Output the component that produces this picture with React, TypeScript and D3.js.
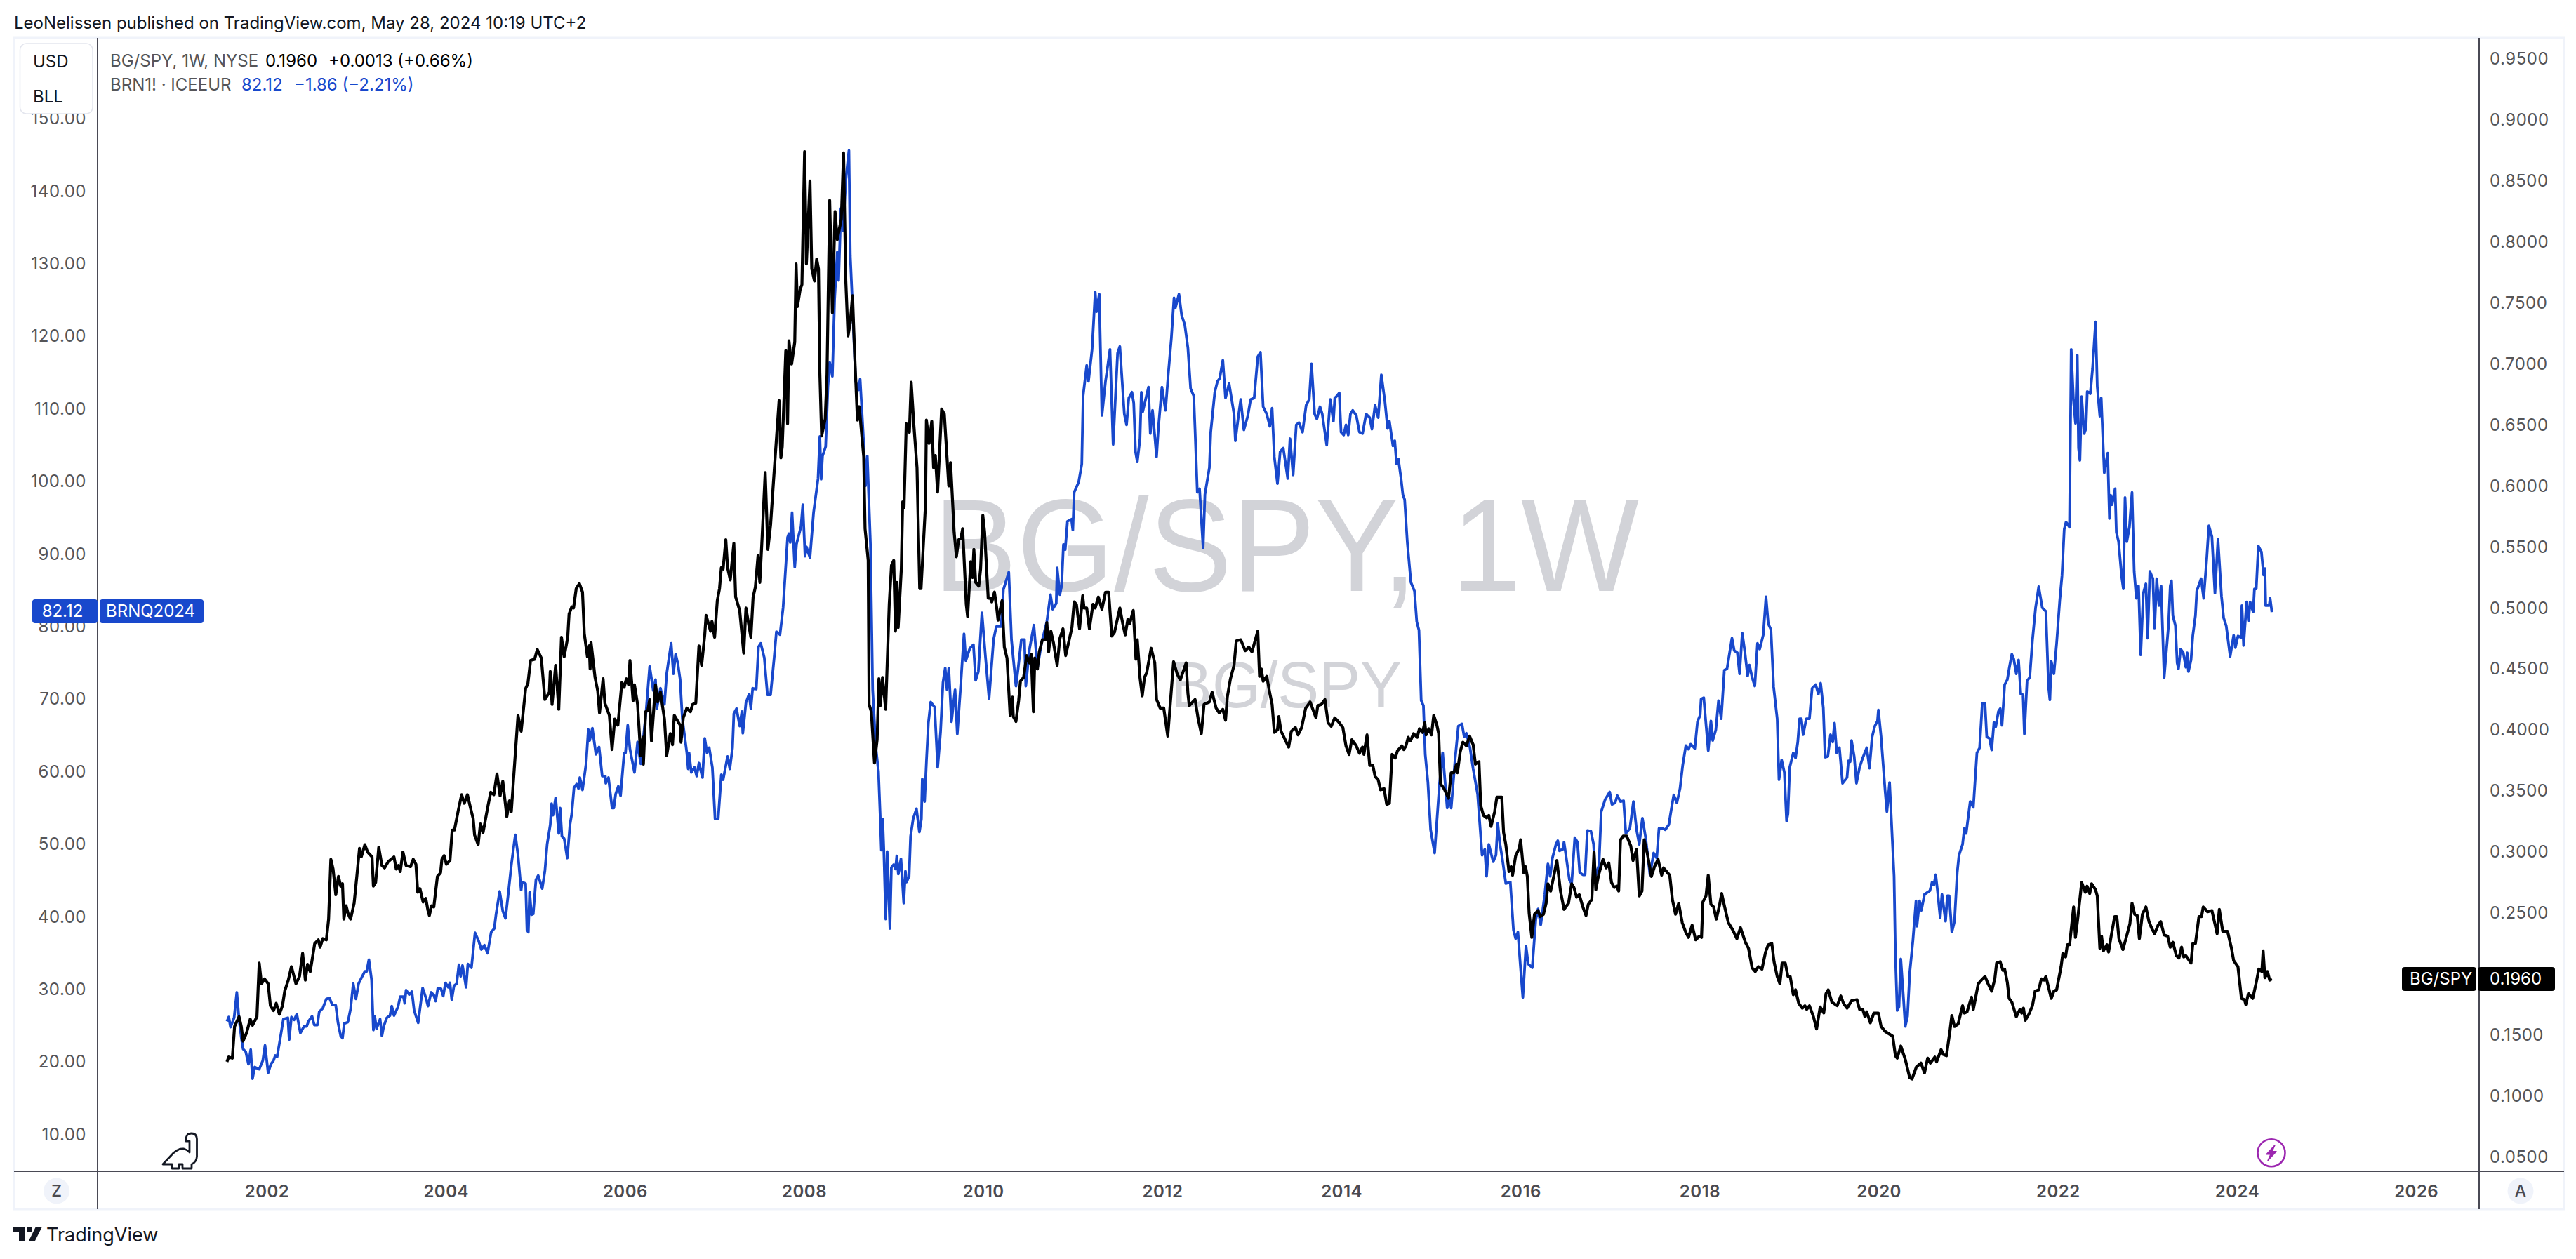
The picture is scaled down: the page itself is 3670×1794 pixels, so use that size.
import React, { useEffect, useRef } from 'react';
import { select, scaleLinear, line, axisLeft, axisRight, axisBottom, format } from 'd3';

// weekly-ish [decimal year, value] pairs
const bgSpy: [number, number][] = [
  [2001.556,.128],[2001.576,.132],[2001.616,.131],[2001.641,.157],[2001.666,.161],[2001.691,.165],[2001.716,.157],[2001.736,.145],[2001.776,.152],[2001.816,.163],[2001.841,.158],[2001.891,.165],[2001.916,.209],[2001.941,.192],[2001.976,.196],
  [2002.016,.192],[2002.041,.174],[2002.076,.170],[2002.106,.176],[2002.141,.167],[2002.176,.174],[2002.201,.186],[2002.241,.195],[2002.276,.206],[2002.326,.192],[2002.366,.198],[2002.401,.217],[2002.431,.195],[2002.456,.208],[2002.486,.202],[2002.536,.225],[2002.576,.228],[2002.596,.222],[2002.626,.229],[2002.666,.228],[2002.691,.245],[2002.716,.294],[2002.741,.286],[2002.771,.265],[2002.801,.280],[2002.826,.272],[2002.846,.274],[2002.861,.245],[2002.886,.256],[2002.911,.249],[2002.936,.245],[2002.976,.258],
  [2003.006,.280],[2003.036,.303],[2003.056,.296],[2003.096,.306],[2003.126,.300],[2003.176,.296],[2003.191,.272],[2003.216,.275],[2003.251,.304],[2003.286,.289],[2003.316,.287],[2003.356,.292],[2003.421,.296],[2003.446,.286],[2003.471,.289],[2003.491,.284],[2003.521,.300],[2003.556,.289],[2003.606,.288],[2003.636,.294],[2003.666,.290],[2003.686,.267],[2003.711,.270],[2003.746,.259],[2003.776,.262],[2003.801,.252],[2003.816,.248],[2003.841,.256],[2003.866,.255],[2003.906,.280],[2003.941,.283],[2003.956,.294],[2003.981,.297],
  [2004.006,.290],[2004.046,.293],[2004.071,.318],[2004.096,.318],[2004.136,.333],[2004.176,.347],[2004.206,.340],[2004.241,.347],[2004.276,.336],[2004.306,.327],[2004.321,.314],[2004.361,.306],[2004.386,.323],[2004.416,.316],[2004.466,.336],[2004.501,.349],[2004.536,.347],[2004.571,.364],[2004.606,.346],[2004.636,.358],[2004.681,.329],[2004.711,.342],[2004.731,.333],[2004.761,.365],[2004.806,.412],[2004.841,.399],[2004.891,.434],[2004.916,.438],[2004.946,.457],[2004.991,.458],
  [2005.021,.466],[2005.066,.459],[2005.106,.425],[2005.156,.431],[2005.166,.448],[2005.186,.421],[2005.226,.453],[2005.261,.417],[2005.291,.476],[2005.321,.460],[2005.361,.476],[2005.376,.495],[2005.406,.501],[2005.426,.500],[2005.456,.516],[2005.491,.520],[2005.526,.513],[2005.546,.479],[2005.581,.460],[2005.601,.469],[2005.611,.450],[2005.621,.472],[2005.666,.443],[2005.696,.432],[2005.716,.414],[2005.756,.442],[2005.776,.422],[2005.826,.412],[2005.856,.384],[2005.886,.409],[2005.921,.404],[2005.966,.439],[2005.991,.435],
  [2006.016,.442],[2006.041,.437],[2006.056,.457],[2006.091,.424],[2006.106,.437],[2006.141,.421],[2006.176,.379],[2006.201,.394],[2006.206,.372],[2006.231,.415],[2006.256,.416],[2006.276,.425],[2006.296,.391],[2006.341,.437],[2006.366,.423],[2006.396,.431],[2006.441,.409],[2006.466,.379],[2006.506,.397],[2006.531,.388],[2006.551,.412],[2006.616,.404],[2006.626,.390],[2006.651,.410],[2006.691,.418],[2006.731,.415],[2006.756,.421],[2006.791,.422],[2006.826,.469],[2006.856,.453],[2006.891,.478],[2006.906,.494],[2006.956,.481],[2006.971,.489],
  [2007.001,.476],[2007.031,.506],[2007.056,.516],[2007.076,.533],[2007.096,.532],[2007.126,.556],[2007.146,.533],[2007.176,.523],[2007.216,.553],[2007.236,.509],[2007.281,.498],[2007.326,.463],[2007.351,.500],[2007.406,.476],[2007.431,.509],[2007.456,.517],[2007.486,.543],[2007.506,.521],[2007.531,.557],[2007.566,.611],[2007.596,.548],[2007.626,.568],[2007.656,.601],[2007.721,.670],[2007.741,.623],[2007.756,.632],[2007.796,.711],[2007.816,.651],[2007.831,.719],[2007.861,.700],[2007.896,.718],[2007.911,.782],[2007.926,.747],[2007.956,.761],[2007.976,.765],
  [2008.006,.874],[2008.026,.782],[2008.066,.850],[2008.086,.778],[2008.116,.768],[2008.141,.786],[2008.161,.778],[2008.176,.693],[2008.196,.641],[2008.236,.655],[2008.256,.691],[2008.286,.834],[2008.316,.742],[2008.346,.825],[2008.371,.802],[2008.416,.819],[2008.441,.873],[2008.466,.768],[2008.491,.723],[2008.516,.734],[2008.541,.756],[2008.566,.706],[2008.596,.654],[2008.616,.665],[2008.666,.624],[2008.681,.565],[2008.716,.539],[2008.726,.421],[2008.751,.415],[2008.786,.373],[2008.816,.392],[2008.836,.442],[2008.851,.420],[2008.876,.443],[2008.911,.417],[2008.951,.503],[2008.976,.535],
  [2009.001,.539],[2009.021,.481],[2009.036,.521],[2009.051,.484],[2009.086,.532],[2009.101,.587],[2009.116,.582],[2009.141,.651],[2009.176,.644],[2009.196,.685],[2009.226,.650],[2009.261,.615],[2009.291,.516],[2009.306,.516],[2009.356,.585],[2009.366,.654],[2009.396,.635],[2009.426,.653],[2009.446,.615],[2009.466,.625],[2009.491,.595],[2009.536,.663],[2009.566,.659],[2009.616,.600],[2009.636,.619],[2009.676,.562],[2009.701,.542],[2009.726,.556],[2009.751,.557],[2009.771,.565],[2009.811,.503],[2009.826,.493],[2009.861,.538],[2009.881,.525],[2009.896,.548],[2009.916,.521],[2009.951,.518],[2009.971,.532],[2009.996,.576],
  [2010.016,.562],[2010.056,.508],[2010.081,.508],[2010.096,.505],[2010.126,.513],[2010.151,.500],[2010.166,.490],[2010.211,.506],[2010.236,.468],[2010.266,.459],[2010.301,.412],[2010.326,.427],[2010.336,.411],[2010.366,.407],[2010.396,.424],[2010.416,.440],[2010.451,.443],[2010.486,.461],[2010.516,.455],[2010.536,.462],[2010.561,.415],[2010.576,.459],[2010.606,.450],[2010.626,.464],[2010.661,.474],[2010.691,.474],[2010.711,.488],[2010.731,.464],[2010.756,.481],[2010.786,.471],[2010.826,.453],[2010.856,.475],[2010.891,.483],[2010.921,.461],[2010.991,.484],
  [2011.016,.505],[2011.041,.503],[2011.076,.483],[2011.111,.510],[2011.126,.500],[2011.156,.500],[2011.186,.483],[2011.226,.503],[2011.251,.500],[2011.286,.509],[2011.326,.499],[2011.366,.513],[2011.401,.513],[2011.436,.477],[2011.466,.480],[2011.526,.500],[2011.556,.488],[2011.586,.478],[2011.616,.491],[2011.636,.487],[2011.676,.498],[2011.706,.458],[2011.721,.474],[2011.751,.443],[2011.776,.428],[2011.801,.443],[2011.826,.447],[2011.876,.467],[2011.916,.455],[2011.936,.425],[2011.976,.418],
  [2012.016,.418],[2012.061,.395],[2012.096,.428],[2012.126,.456],[2012.166,.446],[2012.201,.441],[2012.266,.455],[2012.286,.430],[2012.301,.420],[2012.366,.425],[2012.401,.409],[2012.436,.397],[2012.466,.421],[2012.526,.423],[2012.556,.431],[2012.601,.418],[2012.636,.414],[2012.676,.417],[2012.706,.408],[2012.726,.427],[2012.761,.442],[2012.801,.453],[2012.826,.473],[2012.876,.474],[2012.926,.465],[2012.966,.468],
  [2013.001,.464],[2013.066,.481],[2013.086,.444],[2013.106,.450],[2013.126,.440],[2013.166,.444],[2013.201,.430],[2013.226,.421],[2013.251,.398],[2013.286,.400],[2013.301,.411],[2013.326,.399],[2013.366,.393],[2013.411,.386],[2013.441,.399],[2013.486,.402],[2013.516,.396],[2013.556,.402],[2013.601,.418],[2013.651,.423],[2013.716,.410],[2013.736,.420],[2013.776,.421],[2013.816,.425],[2013.851,.406],[2013.886,.403],[2013.926,.410],[2013.976,.406],
  [2014.016,.402],[2014.051,.387],[2014.086,.380],[2014.116,.392],[2014.166,.387],[2014.201,.381],[2014.236,.386],[2014.251,.380],[2014.286,.396],[2014.316,.371],[2014.351,.371],[2014.376,.362],[2014.411,.359],[2014.436,.351],[2014.476,.352],[2014.506,.339],[2014.536,.340],[2014.566,.380],[2014.601,.377],[2014.626,.383],[2014.676,.387],[2014.696,.384],[2014.721,.387],[2014.746,.394],[2014.771,.391],[2014.806,.397],[2014.846,.394],[2014.871,.401],[2014.906,.398],[2014.931,.406],[2014.946,.396],[2014.976,.401],
  [2015.006,.396],[2015.031,.412],[2015.066,.404],[2015.086,.397],[2015.106,.356],[2015.146,.352],[2015.196,.344],[2015.226,.365],[2015.256,.365],[2015.286,.372],[2015.296,.365],[2015.326,.382],[2015.356,.390],[2015.396,.387],[2015.431,.395],[2015.471,.388],[2015.496,.372],[2015.536,.374],[2015.556,.338],[2015.586,.330],[2015.621,.328],[2015.646,.330],[2015.671,.321],[2015.711,.333],[2015.736,.345],[2015.791,.345],[2015.811,.316],[2015.836,.306],[2015.871,.284],[2015.896,.288],[2015.911,.281],[2015.946,.297],[2015.986,.303],
  [2016.001,.310],[2016.036,.283],[2016.056,.288],[2016.076,.280],[2016.096,.250],[2016.126,.230],[2016.156,.249],[2016.196,.252],[2016.221,.247],[2016.256,.249],[2016.286,.258],[2016.306,.274],[2016.336,.268],[2016.371,.280],[2016.406,.293],[2016.446,.268],[2016.486,.253],[2016.536,.258],[2016.571,.274],[2016.596,.271],[2016.626,.263],[2016.656,.265],[2016.696,.255],[2016.731,.248],[2016.756,.257],[2016.796,.261],[2016.821,.300],[2016.841,.269],[2016.871,.281],[2016.921,.294],[2016.956,.287],[2016.986,.291],
  [2017.016,.275],[2017.046,.271],[2017.076,.272],[2017.096,.268],[2017.116,.310],[2017.146,.313],[2017.186,.313],[2017.231,.305],[2017.256,.293],[2017.296,.302],[2017.326,.264],[2017.356,.268],[2017.381,.310],[2017.421,.297],[2017.461,.280],[2017.496,.288],[2017.536,.294],[2017.576,.281],[2017.596,.287],[2017.666,.281],[2017.696,.261],[2017.731,.249],[2017.766,.258],[2017.806,.242],[2017.846,.234],[2017.876,.230],[2017.916,.240],[2017.956,.228],[2017.996,.231],
  [2018.021,.230],[2018.036,.259],[2018.071,.264],[2018.096,.281],[2018.126,.257],[2018.156,.255],[2018.186,.245],[2018.221,.256],[2018.246,.266],[2018.276,.256],[2018.321,.242],[2018.371,.236],[2018.416,.229],[2018.456,.238],[2018.511,.226],[2018.546,.221],[2018.586,.205],[2018.621,.202],[2018.656,.206],[2018.696,.204],[2018.736,.218],[2018.766,.224],[2018.806,.225],[2018.831,.210],[2018.866,.198],[2018.896,.192],[2018.921,.209],[2018.956,.209],[2018.986,.198],
  [2019.011,.198],[2019.046,.183],[2019.071,.187],[2019.106,.176],[2019.146,.172],[2019.176,.174],[2019.196,.171],[2019.226,.174],[2019.271,.165],[2019.306,.155],[2019.346,.173],[2019.386,.168],[2019.411,.184],[2019.436,.187],[2019.476,.177],[2019.536,.174],[2019.576,.182],[2019.606,.176],[2019.646,.172],[2019.696,.178],[2019.756,.179],[2019.786,.171],[2019.821,.171],[2019.846,.165],[2019.866,.169],[2019.906,.160],[2019.946,.168],[2019.996,.168],
  [2020.026,.157],[2020.071,.153],[2020.156,.149],[2020.186,.133],[2020.206,.131],[2020.246,.141],[2020.296,.130],[2020.346,.115],[2020.371,.114],[2020.421,.124],[2020.471,.127],[2020.511,.119],[2020.546,.131],[2020.576,.127],[2020.626,.132],[2020.646,.128],[2020.696,.138],[2020.721,.134],[2020.756,.133],[2020.796,.154],[2020.816,.166],[2020.846,.157],[2020.886,.159],[2020.936,.174],[2020.956,.168],[2020.986,.169],
  [2021.036,.181],[2021.056,.171],[2021.111,.192],[2021.146,.195],[2021.186,.198],[2021.221,.192],[2021.261,.186],[2021.296,.196],[2021.316,.209],[2021.356,.210],[2021.386,.203],[2021.406,.204],[2021.436,.193],[2021.456,.180],[2021.486,.177],[2021.536,.165],[2021.576,.171],[2021.596,.168],[2021.616,.172],[2021.636,.162],[2021.676,.167],[2021.716,.174],[2021.746,.186],[2021.786,.187],[2021.816,.196],[2021.846,.195],[2021.866,.198],[2021.896,.189],[2021.926,.180],[2021.956,.186],[2021.986,.187],
  [2022.036,.206],[2022.056,.217],[2022.086,.214],[2022.106,.224],[2022.131,.224],[2022.176,.255],[2022.196,.230],[2022.221,.245],[2022.266,.275],[2022.306,.267],[2022.326,.272],[2022.356,.266],[2022.376,.274],[2022.421,.269],[2022.440,.264],[2022.469,.221],[2022.488,.231],[2022.508,.219],[2022.547,.224],[2022.566,.218],[2022.595,.231],[2022.634,.247],[2022.658,.247],[2022.682,.229],[2022.726,.220],[2022.760,.229],[2022.804,.241],[2022.828,.258],[2022.857,.249],[2022.886,.248],[2022.910,.229],[2022.944,.249],[2022.983,.255],
  [2023.017,.243],[2023.051,.237],[2023.080,.233],[2023.119,.240],[2023.148,.243],[2023.187,.232],[2023.226,.231],[2023.255,.222],[2023.284,.226],[2023.323,.215],[2023.352,.213],[2023.381,.222],[2023.405,.214],[2023.429,.215],[2023.487,.209],[2023.507,.225],[2023.536,.225],[2023.575,.247],[2023.604,.247],[2023.623,.255],[2023.672,.251],[2023.720,.252],[2023.754,.241],[2023.778,.233],[2023.803,.253],[2023.841,.235],[2023.895,.235],[2023.939,.221],[2023.963,.211],
  [2024.011,.206],[2024.050,.180],[2024.084,.179],[2024.099,.175],[2024.128,.184],[2024.176,.180],[2024.215,.193],[2024.244,.204],[2024.278,.202],[2024.292,.219],[2024.312,.197],[2024.341,.202],[2024.365,.195],[2024.390,.196],
];

const brent: [number, number][] = [
  [2001.556,25.6],[2001.576,26.2],[2001.596,24.8],[2001.636,26.1],[2001.666,29.6],[2001.691,25.9],[2001.716,23.4],[2001.736,21.8],[2001.766,21.4],[2001.796,19.7],[2001.821,21.7],[2001.841,17.7],[2001.866,19.3],[2001.916,19.0],[2001.956,20.2],[2001.981,22.3],
  [2002.016,18.5],[2002.046,19.7],[2002.076,20.2],[2002.096,20.9],[2002.116,20.7],[2002.146,22.9],[2002.186,25.9],[2002.236,26.1],[2002.251,23.1],[2002.276,26.2],[2002.306,25.8],[2002.336,26.6],[2002.376,24.0],[2002.416,24.9],[2002.446,24.9],[2002.466,25.6],[2002.506,26.3],[2002.531,25.1],[2002.566,25.1],[2002.586,26.9],[2002.626,27.4],[2002.666,28.7],[2002.701,28.8],[2002.731,27.9],[2002.771,27.8],[2002.796,25.4],[2002.826,23.6],[2002.846,23.3],[2002.866,25.3],[2002.906,25.5],[2002.936,27.3],[2002.966,30.8],[2002.996,28.7],
  [2003.026,30.8],[2003.066,31.8],[2003.096,32.5],[2003.116,32.5],[2003.141,34.1],[2003.171,31.3],[2003.191,24.4],[2003.206,26.3],[2003.226,24.6],[2003.266,25.9],[2003.286,23.6],[2003.306,24.9],[2003.341,26.1],[2003.376,26.4],[2003.396,27.7],[2003.421,26.4],[2003.466,27.6],[2003.491,29.0],[2003.526,29.0],[2003.541,28.1],[2003.556,29.9],[2003.591,29.3],[2003.621,29.7],[2003.646,27.1],[2003.691,25.4],[2003.741,30.2],[2003.776,28.9],[2003.801,27.7],[2003.836,29.6],[2003.866,29.2],[2003.886,28.4],[2003.911,30.2],[2003.946,30.1],[2003.971,29.1],[2003.996,30.9],
  [2004.026,30.3],[2004.046,30.9],[2004.066,28.6],[2004.091,30.5],[2004.121,30.8],[2004.146,33.4],[2004.166,31.8],[2004.186,33.3],[2004.226,30.3],[2004.246,33.5],[2004.286,33.0],[2004.326,37.8],[2004.366,36.7],[2004.396,35.5],[2004.431,36.1],[2004.466,35.0],[2004.506,37.9],[2004.541,38.4],[2004.561,40.4],[2004.601,43.5],[2004.636,40.8],[2004.666,39.8],[2004.701,43.6],[2004.731,47.1],[2004.756,49.5],[2004.776,51.3],[2004.806,48.5],[2004.841,43.7],[2004.851,44.8],[2004.891,44.6],[2004.906,38.2],[2004.921,37.9],[2004.936,43.4],[2004.956,40.3],[2004.976,40.4],
  [2005.006,45.1],[2005.031,45.7],[2005.076,43.9],[2005.106,46.3],[2005.131,50.0],[2005.166,52.7],[2005.181,55.6],[2005.196,54.0],[2005.226,56.4],[2005.261,51.5],[2005.276,55.0],[2005.296,51.1],[2005.321,50.8],[2005.356,48.1],[2005.386,52.7],[2005.406,54.2],[2005.431,57.8],[2005.461,58.3],[2005.481,57.7],[2005.496,59.2],[2005.526,57.5],[2005.566,61.1],[2005.591,65.8],[2005.606,64.3],[2005.636,66.0],[2005.676,62.4],[2005.711,63.4],[2005.746,59.4],[2005.781,59.4],[2005.786,58.4],[2005.816,59.2],[2005.856,55.0],[2005.876,55.0],[2005.896,56.9],[2005.926,58.0],[2005.951,56.7],[2005.991,62.6],
  [2006.006,62.6],[2006.031,66.4],[2006.056,63.1],[2006.106,59.9],[2006.141,64.1],[2006.176,61.1],[2006.236,68.3],[2006.276,74.5],[2006.316,71.2],[2006.341,72.7],[2006.356,68.7],[2006.396,71.5],[2006.441,69.3],[2006.466,73.5],[2006.516,77.7],[2006.541,73.5],[2006.566,76.2],[2006.591,74.9],[2006.616,72.7],[2006.641,67.3],[2006.691,62.6],[2006.706,60.4],[2006.716,62.6],[2006.741,59.9],[2006.776,60.6],[2006.801,59.4],[2006.826,61.2],[2006.866,59.2],[2006.891,64.6],[2006.916,62.6],[2006.941,63.3],[2006.976,60.6],
  [2007.006,53.5],[2007.041,53.5],[2007.076,59.6],[2007.096,58.9],[2007.146,62.1],[2007.171,60.4],[2007.201,63.3],[2007.216,68.0],[2007.246,68.7],[2007.281,66.3],[2007.306,68.3],[2007.316,65.3],[2007.351,69.5],[2007.386,70.7],[2007.406,68.7],[2007.426,71.5],[2007.466,71.4],[2007.491,77.2],[2007.516,77.7],[2007.556,75.7],[2007.591,70.6],[2007.626,70.6],[2007.666,75.7],[2007.691,79.3],[2007.731,78.9],[2007.766,82.6],[2007.816,92.3],[2007.831,92.8],[2007.846,91.6],[2007.866,95.7],[2007.896,88.2],[2007.916,91.4],[2007.966,93.8],[2007.986,96.8],
  [2008.011,89.7],[2008.026,91.0],[2008.066,89.5],[2008.106,95.7],[2008.156,100.4],[2008.176,106.2],[2008.191,100.3],[2008.206,103.5],[2008.241,104.8],[2008.266,113.0],[2008.286,116.4],[2008.316,114.5],[2008.341,125.1],[2008.371,131.6],[2008.386,127.7],[2008.411,137.6],[2008.436,134.6],[2008.466,141.5],[2008.501,145.6],[2008.516,131.1],[2008.541,124.2],[2008.576,113.8],[2008.606,112.6],[2008.626,114.1],[2008.666,105.2],[2008.686,99.4],[2008.706,103.5],[2008.741,91.4],[2008.766,71.3],[2008.801,63.4],[2008.831,60.0],[2008.849,54.2],[2008.863,49.2],[2008.878,53.5],[2008.891,49.0],[2008.912,39.7],[2008.928,49.0],[2008.959,38.4],[2008.975,46.8],
  [2009.001,47.2],[2009.022,46.6],[2009.035,48.4],[2009.053,45.9],[2009.082,48.0],[2009.113,41.9],[2009.132,46.3],[2009.145,44.8],[2009.173,45.6],[2009.189,51.1],[2009.218,53.5],[2009.255,54.9],[2009.288,51.7],[2009.310,53.5],[2009.320,59.0],[2009.346,55.9],[2009.367,61.6],[2009.388,66.7],[2009.414,69.6],[2009.458,68.9],[2009.492,60.6],[2009.524,65.5],[2009.551,72.3],[2009.576,74.3],[2009.596,71.3],[2009.616,74.3],[2009.646,66.9],[2009.686,71.3],[2009.711,65.2],[2009.751,72.3],[2009.786,79.0],[2009.806,75.3],[2009.851,77.0],[2009.891,77.5],[2009.916,72.6],[2009.946,73.8],[2009.986,81.9],
  [2010.026,75.8],[2010.066,70.1],[2010.116,78.2],[2010.146,80.0],[2010.201,80.0],[2010.226,85.1],[2010.286,87.5],[2010.316,78.2],[2010.366,71.8],[2010.391,74.3],[2010.426,78.2],[2010.461,78.2],[2010.476,71.8],[2010.516,76.8],[2010.566,80.2],[2010.606,74.3],[2010.651,77.7],[2010.711,80.7],[2010.751,84.4],[2010.776,82.4],[2010.816,83.2],[2010.826,88.1],[2010.856,84.4],[2010.876,85.6],[2010.896,91.3],[2010.916,90.6],[2010.941,94.5],[2010.986,94.8],
  [2011.001,93.3],[2011.016,98.5],[2011.066,99.9],[2011.101,102.4],[2011.116,111.8],[2011.156,116.0],[2011.176,113.8],[2011.216,118.2],[2011.251,126.1],[2011.266,123.4],[2011.296,125.8],[2011.326,109.1],[2011.366,113.8],[2011.386,115.5],[2011.416,118.2],[2011.451,105.1],[2011.501,117.7],[2011.526,118.6],[2011.576,109.3],[2011.601,107.8],[2011.626,111.5],[2011.661,112.3],[2011.681,110.8],[2011.701,104.1],[2011.721,102.7],[2011.751,105.9],[2011.766,112.3],[2011.781,109.6],[2011.846,113.0],[2011.866,106.6],[2011.891,109.8],[2011.936,103.4],[2011.956,107.3],[2011.996,113.0],
  [2012.036,109.8],[2012.066,114.7],[2012.101,119.7],[2012.131,125.3],[2012.146,123.9],[2012.186,125.8],[2012.216,122.9],[2012.251,121.6],[2012.286,118.4],[2012.316,112.8],[2012.351,111.8],[2012.366,107.1],[2012.391,98.5],[2012.416,99.0],[2012.456,90.8],[2012.476,98.2],[2012.526,101.9],[2012.541,106.8],[2012.586,112.3],[2012.616,113.8],[2012.641,114.2],[2012.676,116.7],[2012.706,111.5],[2012.746,113.5],[2012.801,109.3],[2012.816,105.6],[2012.851,109.1],[2012.876,111.3],[2012.911,107.1],[2012.956,109.1],[2012.986,111.3],
  [2013.026,111.5],[2013.066,117.2],[2013.096,117.8],[2013.126,110.3],[2013.166,109.3],[2013.201,107.6],[2013.226,110.1],[2013.251,103.4],[2013.286,99.7],[2013.316,104.1],[2013.351,104.6],[2013.401,100.4],[2013.426,105.9],[2013.461,100.9],[2013.496,107.8],[2013.526,108.1],[2013.566,106.8],[2013.606,110.5],[2013.641,111.3],[2013.666,116.2],[2013.701,109.3],[2013.726,108.6],[2013.761,110.3],[2013.786,109.3],[2013.836,105.0],[2013.876,111.3],[2013.911,108.3],[2013.926,111.5],[2013.951,111.8],[2013.976,112.2],[2013.996,106.8],
  [2014.026,106.4],[2014.051,107.8],[2014.076,106.4],[2014.101,109.3],[2014.126,109.8],[2014.166,109.1],[2014.201,106.8],[2014.236,106.6],[2014.276,109.3],[2014.316,108.8],[2014.341,107.2],[2014.376,110.5],[2014.411,108.8],[2014.446,114.7],[2014.486,111.0],[2014.516,107.3],[2014.536,108.3],[2014.576,104.9],[2014.596,105.6],[2014.616,102.4],[2014.636,103.1],[2014.666,100.4],[2014.686,98.2],[2014.706,97.5],[2014.736,91.6],[2014.776,86.1],[2014.816,84.9],[2014.841,80.7],[2014.866,79.5],[2014.891,69.8],[2014.916,69.1],[2014.936,62.4],[2014.966,58.5],[2014.996,52.0],
  [2015.041,48.8],[2015.096,58.4],[2015.131,62.6],[2015.181,55.0],[2015.206,56.4],[2015.226,55.0],[2015.271,61.9],[2015.306,66.3],[2015.346,66.6],[2015.371,64.8],[2015.396,65.3],[2015.436,63.3],[2015.471,60.4],[2015.521,56.9],[2015.571,48.5],[2015.601,49.3],[2015.621,45.6],[2015.646,50.0],[2015.676,48.5],[2015.696,47.6],[2015.726,48.5],[2015.746,52.9],[2015.771,50.0],[2015.796,48.1],[2015.836,44.6],[2015.886,44.8],[2015.921,38.2],[2015.946,37.0],[2015.971,37.9],[2015.996,33.7],
  [2016.026,28.9],[2016.061,36.0],[2016.086,33.5],[2016.131,33.0],[2016.171,39.7],[2016.196,41.1],[2016.226,38.9],[2016.271,43.1],[2016.306,47.3],[2016.331,45.6],[2016.356,48.1],[2016.396,50.0],[2016.416,50.5],[2016.436,49.1],[2016.471,49.3],[2016.486,50.3],[2016.546,45.1],[2016.571,44.6],[2016.606,50.9],[2016.636,50.3],[2016.661,46.1],[2016.696,45.8],[2016.721,45.8],[2016.746,51.9],[2016.786,51.8],[2016.816,50.0],[2016.836,45.6],[2016.876,47.1],[2016.901,54.5],[2016.946,56.2],[2016.996,57.2],
  [2017.021,55.5],[2017.056,55.7],[2017.081,56.7],[2017.116,55.9],[2017.151,56.0],[2017.176,51.5],[2017.221,52.2],[2017.261,55.9],[2017.296,52.0],[2017.326,50.0],[2017.361,53.6],[2017.396,51.0],[2017.446,45.8],[2017.486,48.8],[2017.521,48.1],[2017.546,52.2],[2017.586,52.2],[2017.616,52.0],[2017.656,52.7],[2017.686,55.0],[2017.711,56.8],[2017.746,55.7],[2017.781,57.7],[2017.811,60.9],[2017.846,63.6],[2017.876,63.1],[2017.901,63.8],[2017.946,63.2],[2017.976,66.9],
  [2018.006,67.8],[2018.016,70.0],[2018.046,70.2],[2018.096,62.9],[2018.126,67.0],[2018.146,64.3],[2018.181,65.8],[2018.211,69.8],[2018.241,67.3],[2018.276,74.0],[2018.306,74.2],[2018.361,78.4],[2018.386,76.7],[2018.421,76.4],[2018.446,73.5],[2018.476,79.1],[2018.506,76.4],[2018.536,73.2],[2018.556,74.7],[2018.586,73.0],[2018.616,71.8],[2018.646,77.7],[2018.671,76.9],[2018.711,78.9],[2018.741,84.1],[2018.766,80.4],[2018.796,79.6],[2018.826,71.7],[2018.866,67.3],[2018.886,58.9],[2018.916,61.6],[2018.946,59.9],[2018.971,53.2],[2018.986,54.2],
  [2019.006,60.6],[2019.046,62.6],[2019.071,61.9],[2019.096,64.1],[2019.116,67.3],[2019.136,67.3],[2019.156,65.1],[2019.191,67.3],[2019.226,67.3],[2019.256,71.5],[2019.296,72.0],[2019.326,70.7],[2019.351,72.2],[2019.381,68.8],[2019.401,62.0],[2019.431,62.1],[2019.461,65.1],[2019.486,64.1],[2019.506,66.7],[2019.531,62.6],[2019.561,63.3],[2019.596,58.4],[2019.646,59.2],[2019.661,61.5],[2019.681,61.4],[2019.696,64.3],[2019.726,62.1],[2019.751,58.4],[2019.786,60.6],[2019.821,61.9],[2019.866,63.3],[2019.896,60.5],[2019.926,64.8],[2019.956,66.3],[2019.986,67.0],[2019.996,68.5],
  [2020.026,64.8],[2020.071,57.4],[2020.091,54.5],[2020.121,58.5],[2020.171,45.6],[2020.186,34.7],[2020.206,27.1],[2020.226,27.6],[2020.246,34.2],[2020.276,28.8],[2020.296,24.9],[2020.321,26.3],[2020.346,32.3],[2020.381,36.7],[2020.416,42.2],[2020.426,38.7],[2020.456,42.2],[2020.476,40.9],[2020.511,43.1],[2020.546,43.4],[2020.571,43.6],[2020.596,44.8],[2020.616,44.4],[2020.636,45.8],[2020.656,43.6],[2020.686,39.9],[2020.706,43.1],[2020.746,39.4],[2020.766,42.9],[2020.786,42.9],[2020.816,37.9],[2020.846,39.4],[2020.876,46.1],[2020.896,48.5],[2020.936,50.0],[2020.956,52.2],[2020.976,51.5],
  [2021.021,55.9],[2021.056,55.1],[2021.096,62.6],[2021.126,63.3],[2021.156,69.4],[2021.186,69.4],[2021.206,64.8],[2021.236,64.6],[2021.261,63.0],[2021.286,66.8],[2021.306,66.2],[2021.336,68.3],[2021.356,68.7],[2021.376,66.4],[2021.406,72.0],[2021.436,72.7],[2021.456,74.2],[2021.486,76.2],[2021.506,75.6],[2021.536,73.5],[2021.561,75.4],[2021.586,70.7],[2021.611,70.6],[2021.626,65.2],[2021.656,72.5],[2021.686,73.0],[2021.716,78.1],[2021.751,82.6],[2021.786,85.5],[2021.826,82.6],[2021.866,82.1],[2021.896,71.7],[2021.911,69.9],[2021.926,75.2],[2021.956,73.5],[2021.986,77.7],
  [2022.021,83.6],[2022.046,87.0],[2022.071,93.4],[2022.091,94.4],[2022.130,93.7],[2022.149,118.2],[2022.173,111.4],[2022.197,108.0],[2022.217,117.4],[2022.231,104.6],[2022.246,102.9],[2022.265,111.7],[2022.294,106.6],[2022.314,107.3],[2022.328,112.4],[2022.362,112.1],[2022.387,115.5],[2022.421,122.0],[2022.440,113.1],[2022.469,109.0],[2022.484,111.5],[2022.518,101.2],[2022.556,103.9],[2022.576,94.9],[2022.590,98.1],[2022.605,96.8],[2022.639,99.0],[2022.653,93.0],[2022.678,91.7],[2022.712,86.9],[2022.731,85.2],[2022.750,97.8],[2022.770,91.7],[2022.799,93.7],[2022.828,98.5],[2022.852,87.6],[2022.876,83.9],[2022.901,85.6],[2022.925,76.1],[2022.954,84.6],[2022.983,85.9],
  [2023.002,78.4],[2023.027,87.6],[2023.061,86.6],[2023.080,79.8],[2023.104,86.6],[2023.129,82.9],[2023.153,85.6],[2023.187,73.0],[2023.235,80.1],[2023.255,85.6],[2023.269,86.3],[2023.284,81.5],[2023.313,80.1],[2023.332,75.0],[2023.347,74.2],[2023.371,76.9],[2023.400,76.4],[2023.429,74.4],[2023.444,76.4],[2023.458,73.8],[2023.487,75.4],[2023.507,78.8],[2023.536,81.5],[2023.551,84.9],[2023.599,86.6],[2023.628,83.9],[2023.662,89.3],[2023.686,93.9],[2023.720,92.4],[2023.754,84.6],[2023.788,92.0],[2023.827,84.2],[2023.851,81.2],[2023.880,80.1],[2023.924,75.9],[2023.963,78.8],[2023.982,77.1],
  [2024.011,78.7],[2024.045,78.5],[2024.055,82.9],[2024.074,77.4],[2024.108,83.4],[2024.128,80.8],[2024.147,83.4],[2024.181,82.0],[2024.195,85.2],[2024.215,85.2],[2024.239,91.1],[2024.273,90.3],[2024.297,87.1],[2024.312,88.0],[2024.321,82.9],[2024.360,82.9],[2024.370,83.9],[2024.390,82.0],
];

const yearTicks = [2002, 2004, 2006, 2008, 2010, 2012, 2014, 2016, 2018, 2020, 2022, 2024, 2026];
const brentTicks = [10, 20, 30, 40, 50, 60, 70, 80, 90, 100, 110, 120, 130, 140, 150];
// 0.2000 sits behind the last-price tag in the original, so it is left out
const ratioTicks = [0.05, 0.1, 0.15, 0.25, 0.3, 0.35, 0.4, 0.45, 0.5, 0.55, 0.6, 0.65, 0.7, 0.75, 0.8, 0.85, 0.9, 0.95];

const FONT = 'Inter, "Liberation Sans", sans-serif';
const BLUE = '#1848cc';
const FRAME = '#f0f3fa';
const AXIS_LINE = '#4a4a55';
const LABEL = '#555558';
const WATERMARK = '#d2d3d8';

const frame = { left: 20, right: 3653, top: 54, bottom: 1723 };
const paneLeft = 139;
const paneRight = 3532;
const paneBottom = 1669;

function App() {
  const svgRef = useRef<SVGSVGElement | null>(null);

  useEffect(() => {
    const svg = select(svgRef.current);
    svg.selectAll('*').remove();

    const x = scaleLinear().domain([2002, 2024]).range([380, 3187]);
    const yLeft = scaleLinear().domain([10, 150]).range([1616.7, 169]);
    const yRight = scaleLinear().domain([0.05, 0.95]).range([1648.7, 84]);

    // frame and pane separators
    svg.append('rect')
      .attr('x', frame.left).attr('y', frame.top)
      .attr('width', frame.right - frame.left).attr('height', frame.bottom - frame.top)
      .attr('fill', '#fff').attr('stroke', FRAME).attr('stroke-width', 3);

    const text = (s: string, tx: number, ty: number, size: number, fill: string, anchor = 'start', weight = 400) =>
      svg.append('text')
        .attr('x', tx).attr('y', ty)
        .attr('font-family', FONT).attr('font-size', size).attr('font-weight', weight)
        .attr('fill', fill).attr('text-anchor', anchor)
        .text(s);

    // watermarks sit under the lines
    text('BG/SPY, 1W', 1330, 842, 188, WATERMARK).attr('font-family', '"Liberation Sans", sans-serif')
      .attr('textLength', 1005).attr('lengthAdjust', 'spacingAndGlyphs');
    text('BG/SPY', 1668, 1008, 92, WATERMARK).attr('font-family', '"Liberation Sans", sans-serif')
      .attr('textLength', 329).attr('lengthAdjust', 'spacingAndGlyphs');

    // series
    const brentLine = line<[number, number]>().x(d => x(d[0])).y(d => yLeft(d[1]));
    const bgLine = line<[number, number]>().x(d => x(d[0])).y(d => yRight(d[1]));
    svg.append('path').attr('d', brentLine(brent)).attr('fill', 'none')
      .attr('stroke', BLUE).attr('stroke-width', 3.8).attr('stroke-linejoin', 'round');
    svg.append('path').attr('d', bgLine(bgSpy)).attr('fill', 'none')
      .attr('stroke', '#000').attr('stroke-width', 4.2).attr('stroke-linejoin', 'round');

    // axes
    const styleAxis = (g: any, weight: number, fill: string) => {
      g.select('.domain').remove();
      g.selectAll('text')
        .attr('font-family', FONT).attr('font-size', 24).attr('font-weight', weight).attr('fill', fill)
        .attr('letter-spacing', 0.5);
    };
    const leftG = svg.append('g').attr('transform', `translate(123,0)`)
      .call(axisLeft(yLeft).tickValues(brentTicks).tickSize(0).tickPadding(0).tickFormat(format('.2f')) as any);
    styleAxis(leftG, 400, LABEL);
    const rightG = svg.append('g').attr('transform', `translate(3547,0)`)
      .call(axisRight(yRight).tickValues(ratioTicks).tickSize(0).tickPadding(0).tickFormat(format('.4f')) as any);
    styleAxis(rightG, 400, LABEL);
    const bottomG = svg.append('g').attr('transform', `translate(0,1688.6)`)
      .call(axisBottom(x).tickValues(yearTicks).tickSize(0).tickPadding(0).tickFormat(format('d')) as any);
    styleAxis(bottomG, 600, '#4a4a50');

    svg.append('line').attr('x1', paneLeft).attr('x2', paneLeft).attr('y1', frame.top).attr('y2', frame.bottom)
      .attr('stroke', AXIS_LINE).attr('stroke-width', 2);
    svg.append('line').attr('x1', paneRight).attr('x2', paneRight).attr('y1', frame.top).attr('y2', frame.bottom)
      .attr('stroke', AXIS_LINE).attr('stroke-width', 2);
    svg.append('line').attr('x1', frame.left).attr('x2', frame.right).attr('y1', paneBottom).attr('y2', paneBottom)
      .attr('stroke', AXIS_LINE).attr('stroke-width', 2);

    // currency / unit box covers the clipped 150.00 label
    svg.append('rect').attr('x', 28.5).attr('y', 62).attr('width', 103.5).attr('height', 100).attr('rx', 9)
      .attr('fill', '#fff').attr('stroke', '#e4e6ee').attr('stroke-width', 1.5);
    text('USD', 47, 96, 24, '#131722');
    text('BLL', 47, 146, 24, '#131722');

    // header
    text('LeoNelissen published on TradingView.com, May 28, 2024 10:19 UTC+2', 20, 41, 24, '#131722');
    text('BG/SPY, 1W, NYSE', 157, 95, 24, '#555558');
    text('0.1960', 378, 95, 24, '#000');
    text('+0.0013 (+0.66%)', 468, 95, 24, '#000');
    text('BRN1! · ICEEUR', 157, 129, 24, '#555558');
    text('82.12', 344, 129, 24, BLUE);
    text('−1.86 (−2.21%)', 419, 129, 24, BLUE);

    // last price labels
    const tag = (rx: number, rw: number, ry: number, fill: string) =>
      svg.append('rect').attr('x', rx).attr('y', ry).attr('width', rw).attr('height', 34).attr('rx', 4).attr('fill', fill);
    tag(46, 93, 854, BLUE);
    tag(142, 148, 854, BLUE);
    text('82.12', 89, 879, 24, '#fff', 'middle');
    text('BRNQ2024', 151, 879, 24, '#fff');
    tag(3422, 106, 1378, '#000');
    tag(3530, 110, 1378, '#000');
    text('BG/SPY', 3433, 1403, 24, '#fff');
    text('0.1960', 3547, 1403, 24, '#fff');

    // Z and A buttons
    const button = (cx: number, label: string) => {
      svg.append('circle').attr('cx', cx).attr('cy', 1697).attr('r', 18.5).attr('fill', FRAME);
      text(label, cx, 1705, 23, '#4a4a50', 'middle', 500);
    };
    button(80.6, 'Z');
    button(3591, 'A');

    // dinosaur marking the start of the series
    svg.append('path')
      .attr('transform', 'translate(232,1615)')
      .attr('d', 'M0 44 L15 28 Q22 21 30 22 Q36 24 38 27 L38 11 L33 11 Q32 0 41 0 Q48 0 48.5 8 L48.5 33 Q48 41 41 44 L41 50 L28 50 L28 44 L23 44 L23 50 L13 50 L13 44 Z')
      .attr('fill', '#fff').attr('stroke', '#131722').attr('stroke-width', 2.8).attr('stroke-linejoin', 'round');

    // earnings / lightning marker
    svg.append('circle').attr('cx', 3236).attr('cy', 1642.7).attr('r', 19.5)
      .attr('fill', '#fff').attr('stroke', '#9c27b0').attr('stroke-width', 2.6);
    svg.append('path')
      .attr('transform', 'translate(3236,1642.7)')
      .attr('d', 'M5 -11 L-7 2 L-1 2 L-5 11 L7 -2 L1 -2 Z')
      .attr('fill', '#9c27b0').attr('stroke', '#9c27b0').attr('stroke-width', 1.5).attr('stroke-linejoin', 'round');

    // TradingView logo
    svg.append('path')
      .attr('transform', 'translate(19,1748)')
      .attr('d', 'M0 0 H16 V20 H8 V8 H0 Z M32 0 H41 L31 20 H22 Z')
      .attr('fill', '#131722');
    svg.append('circle').attr('cx', 42).attr('cy', 1752).attr('r', 4).attr('fill', '#131722');
    text('TradingView', 66, 1769, 27, '#131722');
  }, []);

  return (
    <svg
      ref={svgRef}
      width={3670}
      height={1794}
      style={{ position: 'absolute', left: 0, top: 0, background: '#fff' }}
    />
  );
}

export default App;
